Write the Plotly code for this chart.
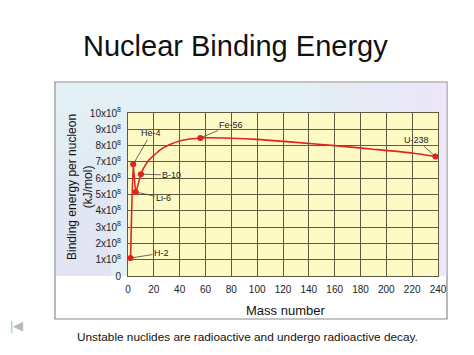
import plotly.graph_objects as go

# Data (binding energy per nucleon, units of 10^8 kJ/mol)
curve_mass = [2, 4, 6, 10, 12, 16, 20, 26, 32, 40, 48, 56, 80, 100, 130, 160, 190, 220, 238]
curve_energy = [1.1, 6.85, 5.15, 6.25, 6.6, 7.1, 7.4, 7.8, 8.05, 8.28, 8.4, 8.47, 8.45, 8.38, 8.2, 8.0, 7.78, 7.55, 7.33]

nuclide_names = ["H-2", "He-4", "Li-6", "B-10", "Fe-56", "U-238"]
nuclide_mass = [2, 4, 6, 10, 56, 238]
nuclide_energy = [1.1, 6.85, 5.15, 6.25, 8.47, 7.33]
label_dx = [31, 18, 28, 31, 31, -19]
label_dy = [-5, -31, 6, 1, -13, -17]

x_ticks = [0, 20, 40, 60, 80, 100, 120, 140, 160, 180, 200, 220, 240]
y_ticks = [0, 1, 2, 3, 4, 5, 6, 7, 8, 9, 10]
y_ticktext = ["0"] + [f"{v}x10<sup>8</sup>" for v in y_ticks[1:]]

FONT = "Liberation Sans, Arial, Helvetica, sans-serif"
W, H = 474, 355
L, R, T, B = 128, 36, 113, 79

fig = go.Figure()
fig.add_trace(go.Scatter(x=curve_mass, y=curve_energy, mode="lines",
                         line=dict(color="#e3231b", width=1.6, shape="spline", smoothing=0.4),
                         hoverinfo="skip", showlegend=False))
fig.add_trace(go.Scatter(x=nuclide_mass, y=nuclide_energy, mode="markers",
                         marker=dict(color="#e3231b", size=6),
                         showlegend=False))

for n, xm, ye, dx, dy in zip(nuclide_names, nuclide_mass, nuclide_energy, label_dx, label_dy):
    fig.add_annotation(x=xm, y=ye, text=n, showarrow=True, arrowhead=0, arrowwidth=0.8,
                       arrowcolor="#444444", ax=dx, ay=dy, standoff=2,
                       font=dict(family=FONT, size=9, color="#222222"))

# background box shapes (paper coords)
def px(xp):
    return (xp - L) / (W - L - R)

def py(yp):
    return 1 - (yp - T) / (H - T - B)

shapes = []
box_l, box_r, box_t, box_b = 55, 447, 82, 319
shapes.append(dict(type="rect", xref="paper", yref="paper", x0=px(box_l), x1=px(box_r),
                   y0=py(box_b), y1=py(box_t), fillcolor="white",
                   line=dict(color="#8a8a8a", width=1.2), layer="below"))
n = 28
c0 = (226, 240, 245)
c1 = (236, 230, 248)
x_start, x_end = box_l + 1, box_r - 1
for i in range(n):
    t = i / (n - 1)
    tt = max(0.0, (t - 0.6) / 0.4)
    col = tuple(int(c0[k] + (c1[k] - c0[k]) * tt) for k in range(3))
    xa = x_start + (x_end - x_start) * i / n
    xb = x_start + (x_end - x_start) * (i + 1) / n + 0.5
    shapes.append(dict(type="rect", xref="paper", yref="paper", x0=px(xa), x1=px(xb),
                       y0=py(276), y1=py(box_t + 1), fillcolor="rgb(%d,%d,%d)" % col,
                       line=dict(width=0), layer="below"))
for i in range(8):
    shapes.append(dict(type="rect", xref="paper", yref="paper", x0=px(x_start), x1=px(x_start + 55),
                       y0=py(276), y1=py(276 - 20 * (i + 1)), fillcolor="rgba(225,215,245,0.08)",
                       line=dict(width=0), layer="below"))
shapes.append(dict(type="rect", xref="paper", yref="paper", x0=0, x1=1, y0=0, y1=1,
                   fillcolor="#fefac6", line=dict(width=0), layer="below"))

fig.update_layout(
    width=W, height=H,
    margin=dict(l=L, r=R, t=T, b=B, autoexpand=False),
    paper_bgcolor="white",
    plot_bgcolor="rgba(0,0,0,0)",
    shapes=shapes,
    font=dict(family=FONT, color="#222222"),
    xaxis=dict(range=[0, 240], tickvals=x_ticks, showgrid=True, gridcolor="#5d5d45", gridwidth=1,
               showline=True, linecolor="#5d5d45", mirror=True, zeroline=False,
               ticks="", tickfont=dict(size=10, family=FONT, color="#222222"), ticklabelstandoff=4),
    yaxis=dict(range=[0, 10], tickvals=y_ticks, ticktext=y_ticktext, showgrid=True,
               gridcolor="#5d5d45", gridwidth=1, showline=True, linecolor="#5d5d45", mirror=True,
               zeroline=False, ticks="", tickfont=dict(size=10, family=FONT, color="#222222"),
               ticklabelstandoff=4),
)

def text_ann(text, x, y, size, color="#111111", angle=0):
    fig.add_annotation(text=text, xref="paper", yref="paper", x=px(x), y=py(y),
                       xanchor="center", yanchor="middle", showarrow=False, textangle=angle,
                       font=dict(family=FONT, size=size, color=color))

text_ann("Nuclear Binding Energy", 235, 46, 29)
text_ann("Mass number", 285, 310, 13)
text_ann("Binding energy per nucleon<br>(kJ/mol)", 80, 187, 12, angle=-90)
text_ann("Unstable nuclides are radioactive and undergo radioactive decay.", 247, 337, 11.8)
text_ann("|◀", 16, 325, 13, color="#b8b8b8")

fig.write_html("out.html", post_script="document.body.style.margin='0';",
               config={"displayModeBar": False})
